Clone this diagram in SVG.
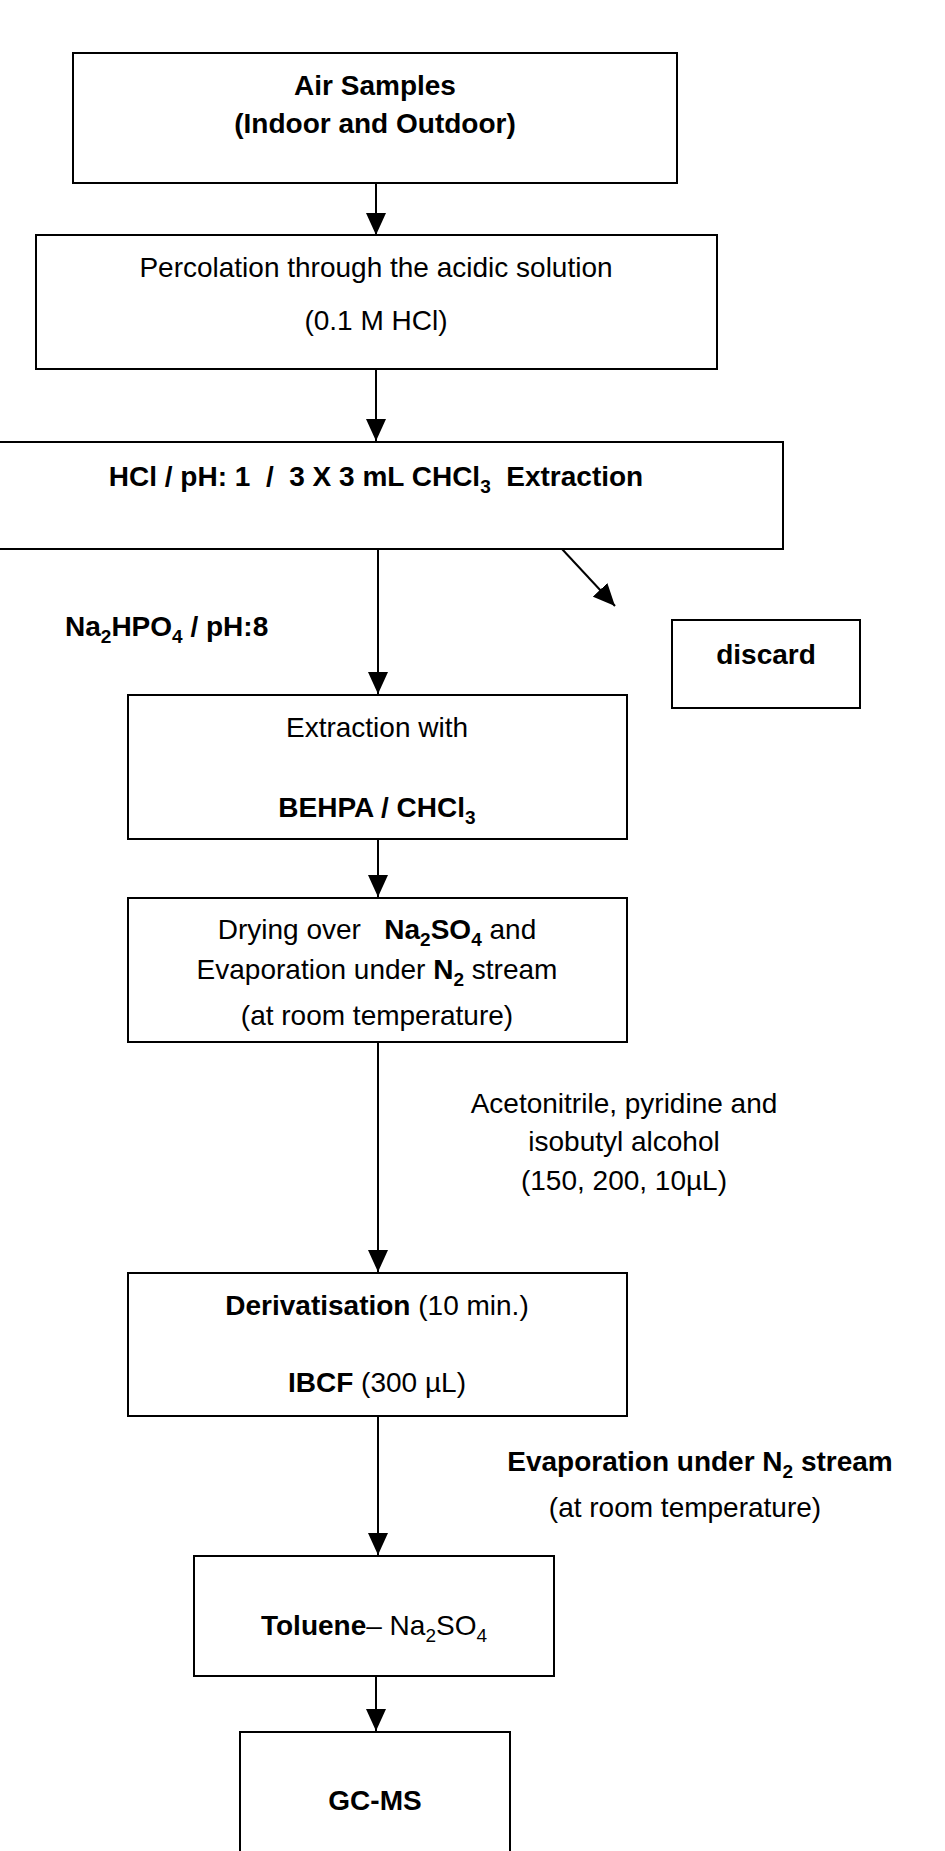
<svg xmlns="http://www.w3.org/2000/svg" width="945" height="1851" viewBox="0 0 945 1851">
<style>
.box{fill:#fff;stroke:#000;stroke-width:2}
text{font-family:"Liberation Sans",Arial,sans-serif;font-size:28px;fill:#000;text-anchor:middle}
.b{font-weight:bold}
.s{font-size:19px}
.c{stroke:#000;stroke-width:2;fill:none;marker-end:url(#ah)}
</style>
<defs><marker id="ah" markerWidth="22" markerHeight="20" refX="22" refY="10" orient="auto" markerUnits="userSpaceOnUse"><path d="M0,0L22,10L0,20z" fill="#000"/></marker></defs>
<rect width="945" height="1851" fill="#fff"/>
<g id="connectors">
<line class="c" x1="376" y1="183" x2="376" y2="235"/>
<line class="c" x1="376" y1="369" x2="376" y2="441"/>
<line class="c" x1="378" y1="549" x2="378" y2="694"/>
<line class="c" x1="562" y1="549" x2="615" y2="606"/>
<line class="c" x1="378" y1="839" x2="378" y2="897"/>
<line class="c" x1="378" y1="1042" x2="378" y2="1272"/>
<line class="c" x1="378" y1="1416" x2="378" y2="1555"/>
<line class="c" x1="376" y1="1676" x2="376" y2="1731"/>
</g>
<g id="labels">
<text class="b" x="65" y="636" style="text-anchor:start">Na<tspan class="s" dy="7">2</tspan><tspan dy="-7">HPO</tspan><tspan class="s" dy="7">4</tspan><tspan dy="-7"> / pH:8</tspan></text>
<text x="624" y="1113">Acetonitrile, pyridine and</text>
<text x="624" y="1151">isobutyl alcohol</text>
<text x="624" y="1190">(150, 200, 10µL)</text>
<text class="b" x="700" y="1471">Evaporation under N<tspan class="s" dy="7">2</tspan><tspan dy="-7"> stream</tspan></text>
<text x="685" y="1517">(at room temperature)</text>
</g>
<g id="n1"><rect class="box" x="73" y="53" width="604" height="130"/><text class="b" x="375" y="95">Air Samples</text><text class="b" x="375" y="133">(Indoor and Outdoor)</text></g>
<g id="n2"><rect class="box" x="36" y="235" width="681" height="134"/><text x="376" y="277">Percolation through the acidic solution</text><text x="376" y="330">(0.1 M HCl)</text></g>
<g id="n3"><rect class="box" x="-2" y="442" width="785" height="107"/><text class="b" x="376" y="486" xml:space="preserve">HCl / pH: 1  /  3 X 3 mL CHCl<tspan class="s" dy="7">3</tspan><tspan dy="-7">  Extraction</tspan></text></g>
<g id="n4"><rect class="box" x="672" y="620" width="188" height="88"/><text class="b" x="766" y="664">discard</text></g>
<g id="n5"><rect class="box" x="128" y="695" width="499" height="144"/><text x="377" y="737">Extraction with</text><text class="b" x="377" y="817">BEHPA / CHCl<tspan class="s" dy="7">3</tspan></text></g>
<g id="n6"><rect class="box" x="128" y="898" width="499" height="144"/><text x="377" y="939" xml:space="preserve">Drying over   <tspan class="b">Na</tspan><tspan class="b s" dy="7">2</tspan><tspan class="b" dy="-7">SO</tspan><tspan class="b s" dy="7">4</tspan><tspan dy="-7"> and</tspan></text><text x="377" y="979">Evaporation under <tspan class="b">N</tspan><tspan class="b s" dy="7">2</tspan><tspan dy="-7"> stream</tspan></text><text x="377" y="1025">(at room temperature)</text></g>
<g id="n7"><rect class="box" x="128" y="1273" width="499" height="143"/><text x="377" y="1315"><tspan class="b">Derivatisation</tspan> (10 min.)</text><text x="377" y="1392"><tspan class="b">IBCF</tspan> (300 µL)</text></g>
<g id="n8"><rect class="box" x="194" y="1556" width="360" height="120"/><text x="374" y="1635"><tspan class="b">Toluene</tspan>– Na<tspan class="s" dy="7">2</tspan><tspan dy="-7">SO</tspan><tspan class="s" dy="7">4</tspan></text></g>
<g id="n9"><rect class="box" x="240" y="1732" width="270" height="125"/><text class="b" x="375" y="1810">GC-MS</text></g>
</svg>
